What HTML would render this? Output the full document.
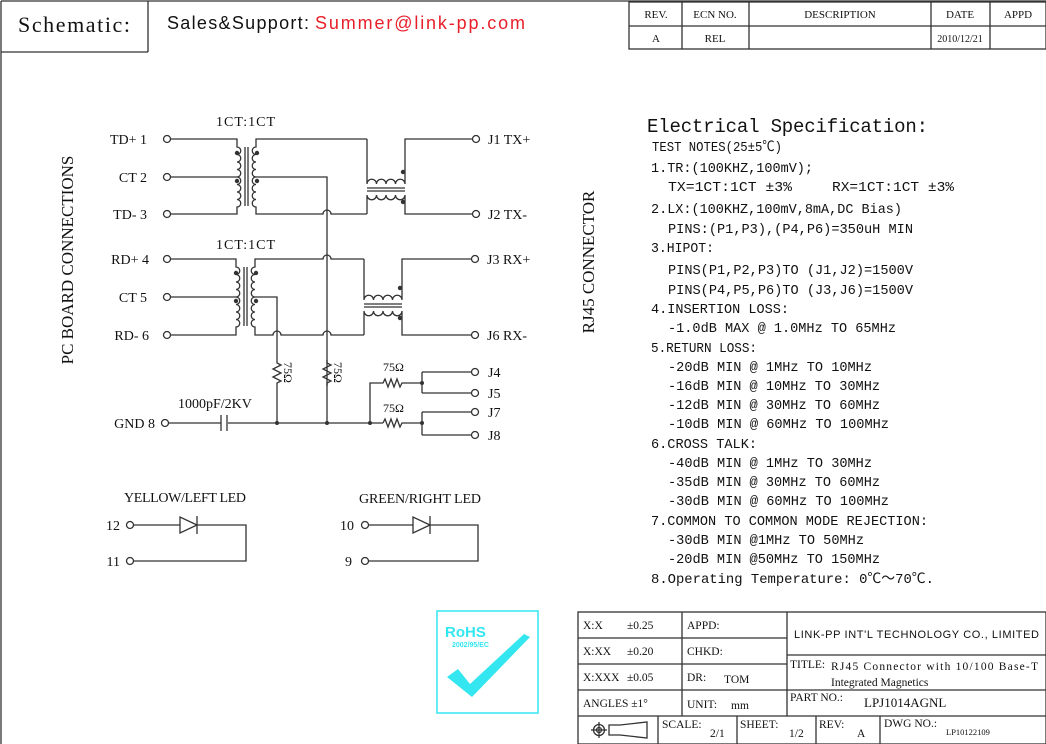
<!DOCTYPE html>
<html><head><meta charset="utf-8"><style>
html,body{margin:0;padding:0;background:#fff;}
svg{display:block;}
text{font-family:"Liberation Mono","Noto Sans CJK SC",monospace;fill:#111;}
.s{font-family:"Liberation Serif","Noto Serif CJK SC",serif;}
</style></head><body>
<svg width="1046" height="744" viewBox="0 0 1046 744" xmlns="http://www.w3.org/2000/svg">
<g stroke="#333" stroke-width="1.3" fill="none">
<line x1="1" y1="1" x2="1046" y2="1"/>
<line x1="1" y1="1" x2="1" y2="744"/>
<line x1="1" y1="52" x2="148" y2="52"/>
<line x1="148" y1="1" x2="148" y2="52"/>
<rect x="629" y="2" width="417" height="47"/>
<line x1="629" y1="26" x2="1046" y2="26"/>
<line x1="682" y1="2" x2="682" y2="49"/>
<line x1="749" y1="2" x2="749" y2="49"/>
<line x1="931" y1="2" x2="931" y2="49"/>
<line x1="990" y1="2" x2="990" y2="49"/>
</g>
<text class="s" x="18" y="32" font-size="22" textLength="112">Schematic:</text>
<text x="167" y="29" font-size="18" style="font-family:'Liberation Sans',sans-serif" textLength="142">Sales&amp;Support:</text>
<text x="315" y="29" font-size="18" style="font-family:'Liberation Sans',sans-serif;fill:#e8202a" textLength="210">Summer@link-pp.com</text>
<g font-size="11" text-anchor="middle" class="s">
<text class="s" x="656" y="18">REV.</text><text class="s" x="715" y="18">ECN NO.</text><text class="s" x="840" y="18">DESCRIPTION</text><text class="s" x="960" y="18">DATE</text><text class="s" x="1018" y="18">APPD</text>
<text class="s" x="656" y="42">A</text><text class="s" x="715" y="42">REL</text><text class="s" x="960" y="42" font-size="10">2010/12/21</text>
</g>

<g stroke="#333" stroke-width="1.3" fill="none">
<g fill="#fff">
<circle cx="167" cy="139" r="3.5"/><circle cx="167" cy="177" r="3.5"/><circle cx="167" cy="214" r="3.5"/>
<circle cx="167" cy="259" r="3.5"/><circle cx="167" cy="297" r="3.5"/><circle cx="167" cy="335" r="3.5"/>
<circle cx="165" cy="423" r="3.5"/>
<circle cx="476" cy="139" r="3.5"/><circle cx="476" cy="214" r="3.5"/><circle cx="475" cy="259" r="3.5"/><circle cx="475" cy="335" r="3.5"/>
<circle cx="475" cy="372" r="3.5"/><circle cx="475" cy="393" r="3.5"/><circle cx="475" cy="412" r="3.5"/><circle cx="475" cy="435" r="3.5"/>
</g>
<path d="M171,139H237V147 a3.75,3.75 0 0 1 0,7.5 a3.75,3.75 0 0 1 0,7.5 a3.75,3.75 0 0 1 0,7.5 a3.75,3.75 0 0 1 0,7.5 a3.75,3.75 0 0 1 0,7.5 a3.75,3.75 0 0 1 0,7.5 a3.75,3.75 0 0 1 0,7.5 a3.75,3.75 0 0 1 0,7.5 V214H171"/>
<path d="M171,177H237"/>
<line x1="245" y1="147" x2="245" y2="206"/><line x1="248" y1="147" x2="248" y2="206"/>
<path d="M367,139H256V147 a3.75,3.75 0 0 0 0,7.5 a3.75,3.75 0 0 0 0,7.5 a3.75,3.75 0 0 0 0,7.5 a3.75,3.75 0 0 0 0,7.5 a3.75,3.75 0 0 0 0,7.5 a3.75,3.75 0 0 0 0,7.5 a3.75,3.75 0 0 0 0,7.5 a3.75,3.75 0 0 0 0,7.5 V214H323 a4,4 0 0 1 8,0 H367"/>
<path d="M256,177H327V423"/>
<path d="M367,139V184 a4.75,4.75 0 0 1 9.5,0 a4.75,4.75 0 0 1 9.5,0 a4.75,4.75 0 0 1 9.5,0 a4.75,4.75 0 0 1 9.5,0 V139H472"/>
<line x1="367" y1="188" x2="405" y2="188"/><line x1="367" y1="191" x2="405" y2="191"/>
<path d="M367,214V195 a4.75,4.75 0 0 0 9.5,0 a4.75,4.75 0 0 0 9.5,0 a4.75,4.75 0 0 0 9.5,0 a4.75,4.75 0 0 0 9.5,0 V214H472"/>
<path d="M171,259H236V267 a3.75,3.75 0 0 1 0,7.5 a3.75,3.75 0 0 1 0,7.5 a3.75,3.75 0 0 1 0,7.5 a3.75,3.75 0 0 1 0,7.5 a3.75,3.75 0 0 1 0,7.5 a3.75,3.75 0 0 1 0,7.5 a3.75,3.75 0 0 1 0,7.5 a3.75,3.75 0 0 1 0,7.5 V335H171"/>
<path d="M171,297H236"/>
<line x1="244" y1="267" x2="244" y2="326"/><line x1="247" y1="267" x2="247" y2="326"/>
<path d="M364,259H331 a4,4 0 0 0 -8,0 H255V267 a3.75,3.75 0 0 0 0,7.5 a3.75,3.75 0 0 0 0,7.5 a3.75,3.75 0 0 0 0,7.5 a3.75,3.75 0 0 0 0,7.5 a3.75,3.75 0 0 0 0,7.5 a3.75,3.75 0 0 0 0,7.5 a3.75,3.75 0 0 0 0,7.5 a3.75,3.75 0 0 0 0,7.5 V335H273 a4,4 0 0 1 8,0 H323 a4,4 0 0 1 8,0 H364"/>
<path d="M255,297H277V360"/>
<path d="M364,259V300 a4.75,4.75 0 0 1 9.5,0 a4.75,4.75 0 0 1 9.5,0 a4.75,4.75 0 0 1 9.5,0 a4.75,4.75 0 0 1 9.5,0 V259H471"/>
<line x1="364" y1="304" x2="402" y2="304"/><line x1="364" y1="307" x2="402" y2="307"/>
<path d="M364,335V311 a4.75,4.75 0 0 0 9.5,0 a4.75,4.75 0 0 0 9.5,0 a4.75,4.75 0 0 0 9.5,0 a4.75,4.75 0 0 0 9.5,0 V335H471"/>
<path d="M277,360 v3 l4,2 l-8,4 l8,4 l-8,4 l8,4 l-4,2 v3 V423"/>
<path d="M327,360 v3 l4,2 l-8,4 l8,4 l-8,4 l8,4 l-4,2 v3"/>
<path d="M169,423H221M228,423H383"/>
<line x1="221" y1="415" x2="221" y2="431"/><line x1="227" y1="415" x2="227" y2="431"/>
<path d="M370,423V383H383 l2,-4 l3,8 l3,-8 l3,8 l3,-8 l3,8 l2,-4 H422"/>
<path d="M383,423 l2,-4 l3,8 l3,-8 l3,8 l3,-8 l3,8 l2,-4 H422"/>
<path d="M422,372V393M422,372H471M422,393H471"/>
<path d="M422,412V435M422,412H471M422,435H471"/>
</g>
<g fill="#333">
<circle cx="237" cy="153" r="2.2"/><circle cx="237" cy="181" r="2.2"/><circle cx="257" cy="153" r="2.2"/><circle cx="257" cy="181" r="2.2"/>
<circle cx="236" cy="273" r="2.2"/><circle cx="236" cy="301" r="2.2"/><circle cx="256" cy="273" r="2.2"/><circle cx="256" cy="301" r="2.2"/>
<circle cx="403" cy="172" r="2.2"/><circle cx="403" cy="202" r="2.2"/><circle cx="400" cy="288" r="2.2"/><circle cx="400" cy="318" r="2.2"/>
<circle cx="277" cy="423" r="2"/><circle cx="327" cy="423" r="2"/><circle cx="370" cy="423" r="2"/><circle cx="422" cy="383" r="2"/><circle cx="422" cy="423" r="2"/>
</g>
<g font-size="14" class="s">
<text class="s" x="216" y="126" textLength="59">1CT:1CT</text><text class="s" x="216" y="249" textLength="59">1CT:1CT</text>
<text class="s" x="147" y="144" text-anchor="end">TD+ 1</text>
<text class="s" x="147" y="182" text-anchor="end">CT 2</text>
<text class="s" x="147" y="219" text-anchor="end">TD- 3</text>
<text class="s" x="149" y="264" text-anchor="end">RD+ 4</text>
<text class="s" x="147" y="302" text-anchor="end">CT 5</text>
<text class="s" x="149" y="340" text-anchor="end">RD- 6</text>
<text class="s" x="155" y="428" text-anchor="end">GND 8</text>
<text class="s" x="178" y="408">1000pF/2KV</text>
<text class="s" x="488" y="144">J1 TX+</text><text class="s" x="488" y="219">J2 TX-</text>
<text class="s" x="487" y="264">J3 RX+</text><text class="s" x="487" y="340">J6 RX-</text>
<text class="s" x="488" y="377">J4</text><text class="s" x="488" y="398">J5</text>
<text class="s" x="488" y="417">J7</text><text class="s" x="488" y="440">J8</text>
<text class="s" x="383" y="371" font-size="12">75Ω</text><text class="s" x="383" y="412" font-size="12">75Ω</text>
<text class="s" x="0" y="0" font-size="12" transform="translate(284,362) rotate(90)">75Ω</text>
<text class="s" x="0" y="0" font-size="12" transform="translate(334,362) rotate(90)">75Ω</text>
<text class="s" x="0" y="0" font-size="17" text-anchor="middle" transform="translate(73,260) rotate(-90)">PC BOARD CONNECTIONS</text>
<text class="s" x="0" y="0" font-size="17" text-anchor="middle" transform="translate(594,262) rotate(-90)">RJ45 CONNECTOR</text>
<text class="s" x="124" y="502" textLength="122">YELLOW/LEFT LED</text>
<text class="s" x="359" y="503" textLength="122">GREEN/RIGHT LED</text>
<text class="s" x="120" y="530" text-anchor="end">12</text>
<text class="s" x="120" y="566" text-anchor="end">11</text>
<text class="s" x="354" y="530" text-anchor="end">10</text>
<text class="s" x="352" y="566" text-anchor="end">9</text>
</g>
<g stroke="#333" stroke-width="1.3" fill="none">
<circle cx="130" cy="525" r="3.5"/><circle cx="130" cy="561" r="3.5"/>
<path d="M134,525H180M197,525H246V561H134"/>
<path d="M180,517V533L197,525Z"/><line x1="197" y1="516" x2="197" y2="534"/>
<circle cx="365" cy="525" r="3.5"/><circle cx="365" cy="561" r="3.5"/>
<path d="M369,525H413M430,525H478V561H369"/>
<path d="M413,517V533L430,525Z"/><line x1="430" y1="516" x2="430" y2="534"/>
</g>

<text x="647" y="132" font-size="19" textLength="281">Electrical Specification:</text>
<g font-size="14" lengthAdjust="spacingAndGlyphs">
<text x="652" y="151" textLength="130" lengthAdjust="spacingAndGlyphs">TEST NOTES(25±5℃)</text>
<text x="651" y="172" textLength="162" lengthAdjust="spacingAndGlyphs">1.TR:(100KHZ,100mV);</text>
<text x="668" y="191" textLength="124" lengthAdjust="spacingAndGlyphs">TX=1CT:1CT ±3%</text><text x="832" y="191" textLength="122" lengthAdjust="spacingAndGlyphs">RX=1CT:1CT ±3%</text>
<text x="651" y="213" textLength="251" lengthAdjust="spacingAndGlyphs">2.LX:(100KHZ,100mV,8mA,DC Bias)</text>
<text x="668" y="233" textLength="245" lengthAdjust="spacingAndGlyphs">PINS:(P1,P3),(P4,P6)=350uH MIN</text>
<text x="651" y="252" textLength="63" lengthAdjust="spacingAndGlyphs">3.HIPOT:</text>
<text x="668" y="274" textLength="245" lengthAdjust="spacingAndGlyphs">PINS(P1,P2,P3)TO (J1,J2)=1500V</text>
<text x="668" y="294" textLength="245" lengthAdjust="spacingAndGlyphs">PINS(P4,P5,P6)TO (J3,J6)=1500V</text>
<text x="651" y="313" textLength="138" lengthAdjust="spacingAndGlyphs">4.INSERTION LOSS:</text>
<text x="668" y="332" textLength="228" lengthAdjust="spacingAndGlyphs">-1.0dB MAX @ 1.0MHz TO 65MHz</text>
<text x="651" y="352" textLength="106" lengthAdjust="spacingAndGlyphs">5.RETURN LOSS:</text>
<text x="668" y="371" textLength="204" lengthAdjust="spacingAndGlyphs">-20dB MIN @ 1MHz TO 10MHz</text>
<text x="668" y="390" textLength="212" lengthAdjust="spacingAndGlyphs">-16dB MIN @ 10MHz TO 30MHz</text>
<text x="668" y="409" textLength="212" lengthAdjust="spacingAndGlyphs">-12dB MIN @ 30MHz TO 60MHz</text>
<text x="668" y="428" textLength="221" lengthAdjust="spacingAndGlyphs">-10dB MIN @ 60MHz TO 100MHz</text>
<text x="651" y="448" textLength="106" lengthAdjust="spacingAndGlyphs">6.CROSS TALK:</text>
<text x="668" y="467" textLength="204" lengthAdjust="spacingAndGlyphs">-40dB MIN @ 1MHz TO 30MHz</text>
<text x="668" y="486" textLength="212" lengthAdjust="spacingAndGlyphs">-35dB MIN @ 30MHz TO 60MHz</text>
<text x="668" y="505" textLength="221" lengthAdjust="spacingAndGlyphs">-30dB MIN @ 60MHz TO 100MHz</text>
<text x="651" y="525" textLength="277" lengthAdjust="spacingAndGlyphs">7.COMMON TO COMMON MODE REJECTION:</text>
<text x="668" y="544" textLength="196" lengthAdjust="spacingAndGlyphs">-30dB MIN @1MHz TO 50MHz</text>
<text x="668" y="563" textLength="212" lengthAdjust="spacingAndGlyphs">-20dB MIN @50MHz TO 150MHz</text>
<text x="651" y="583" textLength="283" lengthAdjust="spacingAndGlyphs">8.Operating Temperature: 0℃～70℃.</text>
</g>

<rect x="437" y="611" width="101" height="102" fill="none" stroke="#33e6f0" stroke-width="1.5"/>
<text x="445" y="637" font-size="15" font-weight="bold" style="font-family:'Liberation Sans',sans-serif;fill:#33e6f0">RoHS</text>
<text x="452" y="647" font-size="7" font-weight="bold" style="font-family:'Liberation Sans',sans-serif;fill:#33e6f0">2002/95/EC</text>
<path d="M447,677 L458,669 L470,684 L524,634 L530,637 L472,697 Z" fill="#33e6f0"/>

<g stroke="#333" stroke-width="1.3" fill="none">
<rect x="578" y="612" width="468" height="132"/>
<line x1="578" y1="638" x2="787" y2="638"/>
<line x1="578" y1="664" x2="787" y2="664"/>
<line x1="578" y1="690" x2="1046" y2="690"/>
<line x1="578" y1="716" x2="1046" y2="716"/>
<line x1="787" y1="655" x2="1046" y2="655"/>
<line x1="682" y1="612" x2="682" y2="716"/>
<line x1="787" y1="612" x2="787" y2="716"/>
<line x1="658" y1="716" x2="658" y2="744"/>
<line x1="737" y1="716" x2="737" y2="744"/>
<line x1="816" y1="716" x2="816" y2="744"/>
<line x1="880" y1="716" x2="880" y2="744"/>
<circle cx="599" cy="730" r="5.5"/><circle cx="599" cy="730" r="2.5"/>
<line x1="591" y1="730" x2="607" y2="730"/><line x1="599" y1="722" x2="599" y2="738"/>
<path d="M609,725H620L647,722V738L620,735H609Z"/>
</g>
<g font-size="11.5" class="s">
<text class="s" x="583" y="629">X:X</text><text class="s" x="627" y="629">±0.25</text>
<text class="s" x="583" y="655">X:XX</text><text class="s" x="627" y="655">±0.20</text>
<text class="s" x="583" y="681">X:XXX</text><text class="s" x="627" y="681">±0.05</text>
<text class="s" x="583" y="707">ANGLES ±1°</text>
<text class="s" x="687" y="629">APPD:</text>
<text class="s" x="687" y="655">CHKD:</text>
<text class="s" x="687" y="681">DR:</text><text class="s" x="724" y="683">TOM</text>
<text class="s" x="687" y="708">UNIT:</text><text class="s" x="731" y="709">mm</text>
<text x="794" y="638" font-size="11" style="font-family:'Liberation Sans',sans-serif" textLength="245">LINK-PP INT'L TECHNOLOGY CO., LIMITED</text>
<text class="s" x="790" y="668">TITLE:</text><text class="s" x="831" y="670" textLength="207">RJ45 Connector with 10/100 Base-T</text>
<text class="s" x="831" y="686">Integrated Magnetics</text>
<text class="s" x="790" y="701">PART NO.:</text><text class="s" x="864" y="707" font-size="13">LPJ1014AGNL</text>
<text class="s" x="662" y="728">SCALE:</text><text class="s" x="710" y="737">2/1</text>
<text class="s" x="740" y="728">SHEET:</text><text class="s" x="789" y="737">1/2</text>
<text class="s" x="819" y="728">REV:</text><text class="s" x="857" y="737">A</text>
<text class="s" x="884" y="727">DWG NO.:</text><text class="s" x="946" y="735" font-size="8.5">LP10122109</text>
</g>
</svg>
</body></html>
